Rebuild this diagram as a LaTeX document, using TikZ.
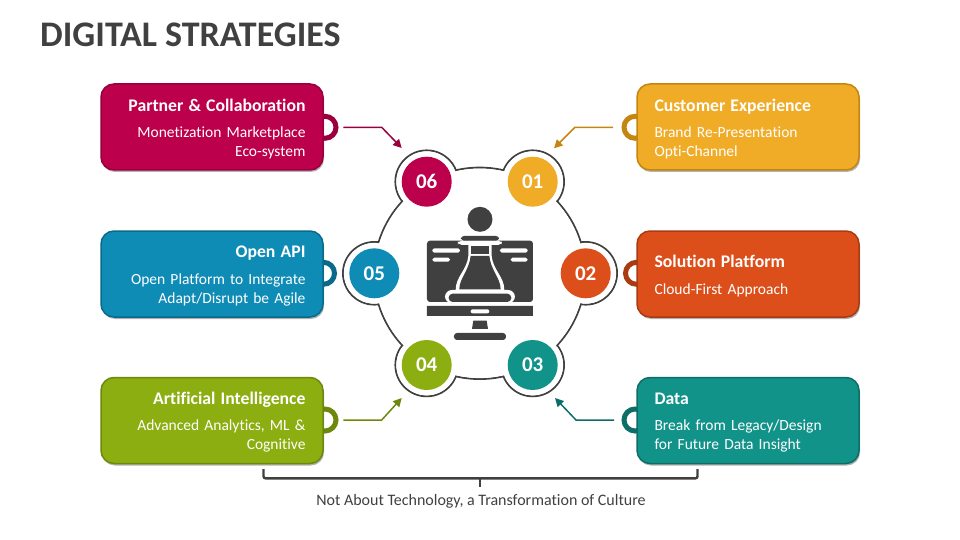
\documentclass[tikz,border=0pt]{standalone}
\usepackage{fontspec}
\setmainfont{Carlito}[Ligatures=NoCommon]
\usetikzlibrary{arrows.meta,shadows,calc}
\definecolor{cCrim}{HTML}{BC004B}\definecolor{dCrim}{HTML}{99003D}
\definecolor{cGold}{HTML}{F0AB27}\definecolor{dGold}{HTML}{C4860F}
\definecolor{cOran}{HTML}{DC4F1A}\definecolor{dOran}{HTML}{A93B13}
\definecolor{cTeal}{HTML}{12938A}\definecolor{dTeal}{HTML}{0D6E68}
\definecolor{cGree}{HTML}{8CAE10}\definecolor{dGree}{HTML}{6E880C}
\definecolor{cBlue}{HTML}{0E8CB5}\definecolor{dBlue}{HTML}{0A6A8A}
\definecolor{ink}{HTML}{404040}
\tikzset{
  card/.style={draw=#1,line width=1.5pt,rounded corners=13pt,minimum width=222pt,minimum height=86pt,
    inner xsep=17.5pt,inner ysep=0pt,text=white,font=\fontsize{15.5}{19}\selectfont,
    drop shadow={shadow xshift=1pt,shadow yshift=-2pt,opacity=.3,fill=black}},
  cardL/.style={card=#1,align=right,text width=187pt},
  cardR/.style={card=#1,align=left,text width=187pt},
  ring/.style={circle,draw=#1,line width=5pt,fill=white,minimum size=22pt,inner sep=0pt},
  num/.style={circle,fill=#1,minimum size=50pt,inner sep=0pt,text=white,font=\fontsize{21}{24}\selectfont\bfseries},
  lead/.style={draw=#1,line width=1.5pt,-{Triangle[length=8.5pt,width=8.5pt]}},
  hubline/.style={draw=ink,line width=1.9pt,fill=white},
  hubfill/.style={fill=white,draw=none},
  brace/.style={draw=ink,line width=2.4pt,rounded corners=2pt},
  inkfill/.style={fill=ink,draw=none},
  hole/.style={fill=white,draw=none},
}
\newcommand{\headtxt}[1]{{\fontsize{17.7}{19}\selectfont\bfseries\rule{0pt}{16pt}#1}\\[7.5pt]}
\begin{document}
\begin{tikzpicture}[x=1pt,y=-1pt]
\useasboundingbox (0,0) rectangle (960,540);
\node[anchor=west,text=ink,font=\fontsize{36}{40}\selectfont\bfseries,inner sep=0pt] (title) at (40,34.5) {DIGITAL STRATEGIES};

% hub
\coordinate (hubc) at (479.7,273.3);
\foreach \n/\x/\y in {h1/532.7/181.7,h2/585.7/273.3,h3/532.7/365,h4/426.7/365,h5/374.3/273.3,h6/426.7/181.7}{
  \coordinate (\n) at (\x,\y);
  \draw[hubline] (\n) circle (31.3);
}
\draw[hubline] (hubc) circle (105.7);
\foreach \n in {h1,h2,h3,h4,h5,h6}{ \fill[hubfill] (\n) circle (30.4); }
\fill[hubfill] (hubc) circle (104.8);
\node[num=cGold] (n1) at (h1) {01};
\node[num=cOran] (n2) at (h2) {02};
\node[num=cTeal] (n3) at (h3) {03};
\node[num=cGree] (n4) at (h4) {04};
\node[num=cBlue] (n5) at (h5) {05};
\node[num=cCrim] (n6) at (h6) {06};

% icon
\begin{scope}[shift={(330,130)},x=0.3333pt,y=-0.3333pt]
  \fill[inkfill] (450,268) circle (37.5);
  \fill[inkfill,rounded corners=3pt] (291,516) -- (291,332) -- (609,332) -- (609,516) -- cycle;
  \fill[inkfill] (291,528) -- (291,545) -- (291,558) -- (609,558) -- (609,528) -- cycle;
  \fill[hole,rounded corners=2pt] (422,538) rectangle (478,550);
  \fill[inkfill] (430,572) -- (470,572) -- (474,597) -- (426,597) -- cycle;
  \fill[inkfill,rounded corners=3pt] (372,609) rectangle (528,630);
  % pawn silhouette
  \fill[hole,rounded corners=4pt] (384,332) rectangle (516,345);
  \fill[hole] (415,345) -- (485,345) -- (485,378)
     .. controls (489,420) and (523,440) .. (523,480) -- (377,480)
     .. controls (377,440) and (411,420) .. (415,378) -- cycle;
  \fill[hole,rounded corners=7pt] (345,480) rectangle (555,520);
  \fill[inkfill,rounded corners=3pt] (393,318) rectangle (507,332);
  \fill[inkfill] (423,347) rectangle (477,372);
  \fill[inkfill] (422,378) -- (478,378) .. controls (482,420) and (512,445) .. (512,478) -- (388,478)
     .. controls (388,445) and (418,420) .. (422,378) -- cycle;
  \fill[inkfill,rounded corners=4pt] (356,491) rectangle (544,516);
  \foreach \a/\b/\c/\d in {307/390/355/368,307/360/383/395,510/593/355/368,542/593/383/395}{
    \fill[hole,rounded corners=1.8pt] (\a,\c) rectangle (\b,\d);
  }
\end{scope}

% rings behind the cards
\node[ring=dCrim] (r6) at (325,127.3) {};
\node[ring=dBlue] (r5) at (323.5,273.3) {};
\node[ring=dGree] (r4) at (325,420) {};
\node[ring=dGold] (r1) at (635,127.3) {};
\node[ring=dOran] (r2) at (636.5,273.3) {};
\node[ring=dTeal] (r3) at (635,420) {};

% cards
\node[cardL=dCrim,fill=cCrim] (c6) at (212,127) {\headtxt{Partner \& Collaboration}Monetization Marketplace\\Eco-system};
\node[cardL=dBlue,fill=cBlue] (c5) at (212,274) {\headtxt{Open API}Open Platform to Integrate\\Adapt/Disrupt be Agile};
\node[cardL=dGree,fill=cGree] (c4) at (212,420.5) {\headtxt{Artificial Intelligence}Advanced Analytics, ML \&\\Cognitive};
\node[cardR=dGold,fill=cGold] (c1) at (748,127) {\headtxt{Customer Experience}Brand Re-Presentation\\Opti-Channel};
\node[cardR=dOran,fill=cOran] (c2) at (748,274) {\headtxt{Solution Platform}Cloud-First Approach};
\node[cardR=dTeal,fill=cTeal] (c3) at (748,420.5) {\headtxt{Data}Break from Legacy/Design\\for Future Data Insight};

% leaders
\coordinate (a6s) at (343.3,127.3); \coordinate (a6m) at (381.7,127.3); \coordinate (a6e) at (401.7,148);
\coordinate (a1s) at (613,127.3);   \coordinate (a1m) at (575,127.3);   \coordinate (a1e) at (554,148.3);
\coordinate (a4s) at (343.3,420);   \coordinate (a4m) at (381.7,420);   \coordinate (a4e) at (401.7,398);
\coordinate (a3s) at (614,420);     \coordinate (a3m) at (576,420);     \coordinate (a3e) at (555,398);
\draw[lead=dCrim] (a6s) -- (a6m) -- (a6e);
\draw[lead=dGold] (a1s) -- (a1m) -- (a1e);
\draw[lead=dGree] (a4s) -- (a4m) -- (a4e);
\draw[lead=dTeal] (a3s) -- (a3m) -- (a3e);

% bracket
\coordinate (bl) at (263.5,469); \coordinate (blc) at (263.5,478.3);
\coordinate (br) at (697.5,469); \coordinate (brc) at (697.5,478.3);
\coordinate (bm) at (480,478.3); \coordinate (bt) at (480,487);
\draw[brace] (bl) -- (blc) -- (brc) -- (br);
\draw[draw=ink,line width=2.6pt] (bm) -- (bt);
\node[text=ink,font=\fontsize{16}{18}\selectfont,inner sep=0pt] (foot) at (481,501.5) {Not About Technology, a Transformation of Culture};
\end{tikzpicture}
\end{document}
